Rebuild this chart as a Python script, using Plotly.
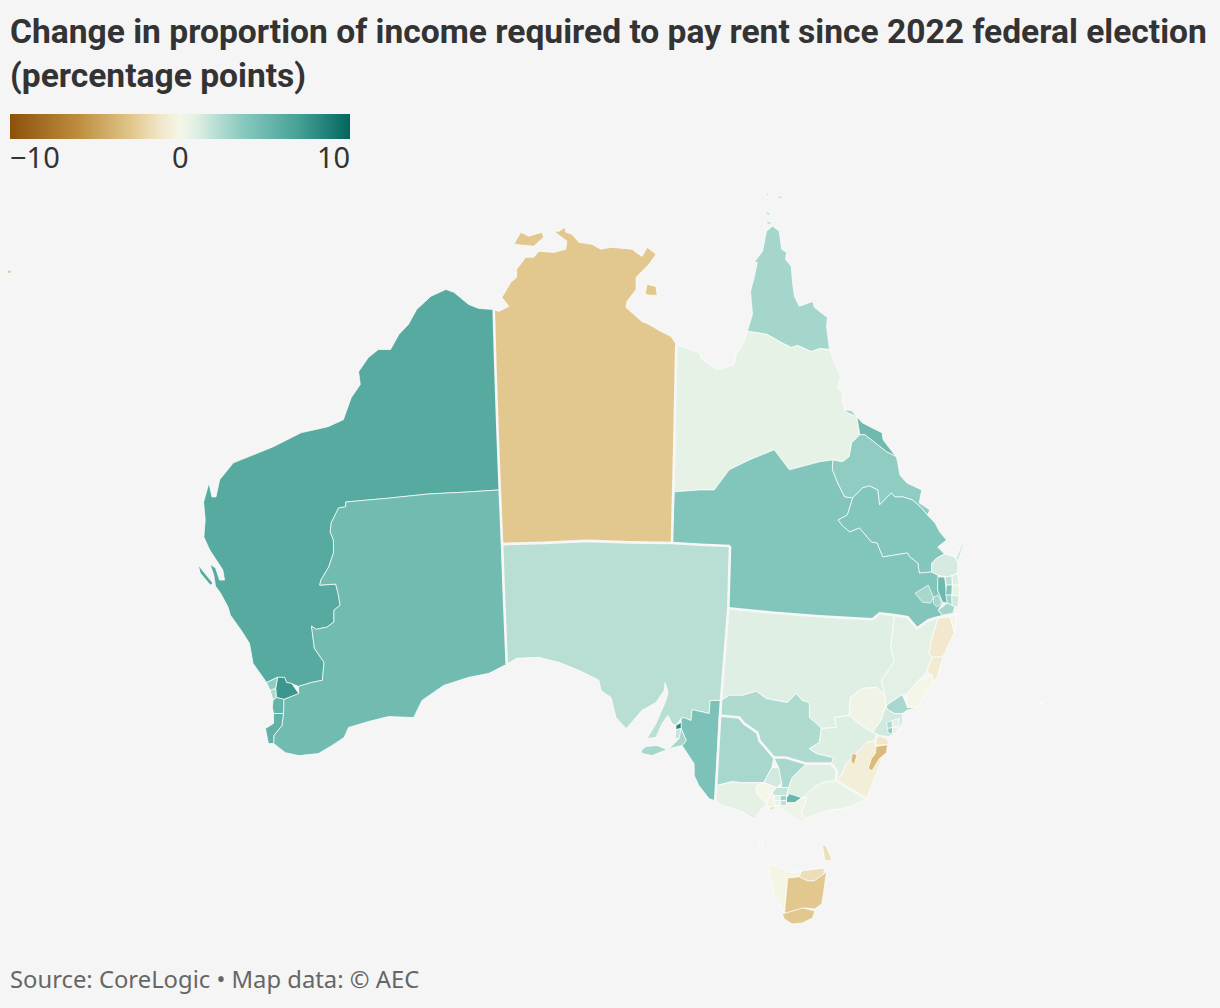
import json
from urllib.parse import quote

import plotly.graph_objects as go

# colour scale
SCALE_VALUES = [-10, -6, -3, -1.3, 0, 1, 2.2, 3.7, 7, 10]
SCALE_COLOURS = ["#8c510a", "#bd8d3e", "#e0c488", "#f0e4c5", "#f4f6e8", "#dfefe4", "#b6ddd3", "#88c9bf", "#46a096", "#01665e"]
TICK_VALUES = [-8.53, 0, 9.0]
TICK_LABELS = ["\u221210", "0", "10"]

# electorate outlines, lon/lat, one list of rings per electorate
DURACK = [
    [(129.01,-14.96),(128.28,-14.91),(127.79,-14.72),(127.09,-14.15),(126.7,-14.01),(125.95,-14.34),(125.24,-14.96),(124.8,-15.67),
     (124.31,-16.14),(123.86,-16.85),(123.26,-16.85),(122.74,-17.23),(122.21,-17.9),(122.25,-18.51),(121.75,-19.13),(121.27,-20.17),
     (120.47,-20.5),(119.07,-20.79),(117.6,-21.45),(116.54,-21.83),(115.47,-22.21),(114.65,-23.01),(114.34,-23.82),(114.13,-23.82),
     (114.08,-23.16),(113.66,-24.06),(113.6,-24.91),(113.39,-25.72),(113.59,-26.33),(114.11,-27.28),(114.11,-27.75),(113.84,-27.75),
     (113.74,-27.18),(113.48,-27.0),(113.58,-27.52),(113.57,-28.04),(113.78,-28.37),(114.05,-29.03),(114.1,-29.41),(114.54,-30.12),
     (114.87,-30.74),(114.87,-31.69),(115.43,-32.59),(116.1,-32.35),(116.49,-32.35),(116.55,-32.59),(116.83,-32.64),(117.18,-32.78),
     (117.96,-32.59),(118.58,-32.49),(118.82,-31.64),(118.4,-30.98),(118.42,-29.93),(118.65,-30.08),(119.24,-29.98),(119.67,-29.74),
     (119.75,-29.18),(120.12,-28.94),(120.09,-28.37),(120.02,-27.94),(119.16,-27.99),(119.26,-27.75),(119.75,-27.14),(120.1,-26.47),
     (120.17,-25.86),(120.05,-25.48),(120.15,-25.05),(120.62,-24.34),(120.99,-24.29),(121.02,-24.06),(125.35,-23.68),(129.02,-23.49)],
    [(112.84,-27.04),(113.46,-27.9),(113.3,-27.99),(112.88,-27.42)],
]
OCONNOR = [
    [(121.02,-24.06),(120.99,-24.29),(120.62,-24.34),(120.15,-25.05),(120.05,-25.48),(120.17,-25.86),(120.1,-26.47),(119.75,-27.14),
     (119.26,-27.75),(119.16,-27.99),(120.02,-27.94),(120.09,-28.37),(120.12,-28.94),(119.75,-29.18),(119.67,-29.74),(119.24,-29.98),
     (118.65,-30.08),(118.42,-29.93),(118.4,-30.98),(118.82,-31.64),(118.58,-32.49),(117.96,-32.59),(117.18,-32.78),(117.13,-33.11),
     (116.23,-33.39),(116.07,-34.06),(115.85,-34.63),(115.28,-35.1),(115.17,-35.48),(115.75,-35.91),(116.51,-36.05),(117.68,-35.95),
     (118.54,-35.57),(119.32,-35.19),(119.66,-34.72),(120.85,-34.44),(122.04,-34.2),(123.47,-34.25),(124.05,-33.44),(125.35,-32.73),
     (126.8,-32.35),(127.94,-32.16),(128.96,-31.73),(129.02,-23.49),(125.35,-23.68)],
]
BULLWINKEL = [[(116.1,-32.35),(116.49,-32.35),(116.55,-32.59),(116.83,-32.64),(117.13,-33.11),(116.23,-33.39),(115.83,-33.3),(115.88,-32.87)]]
PERTH_NORTH = [[(115.43,-32.59),(116.1,-32.35),(115.88,-32.87),(115.55,-32.97)]]
PERTH_SOUTH = [[(115.55,-32.97),(115.88,-32.87),(115.83,-33.3),(115.61,-33.44)]]
CANNING = [[(115.61,-33.44),(115.83,-33.3),(116.23,-33.39),(116.07,-34.06),(115.5,-34.06),(115.5,-33.77)]]
FORREST = [[(115.5,-34.06),(116.07,-34.06),(115.85,-34.63),(115.28,-35.1),(115.17,-35.48),(114.87,-35.48),(114.87,-34.77),(115.39,-34.53)]]
LINGIARI = [
    [(137.97,-16.62),(137.71,-16.24),(137.21,-16.0),(136.62,-15.67),(136.27,-15.53),(135.48,-14.86),(135.53,-14.58),(135.97,-14.01),
     (135.97,-13.44),(136.59,-12.82),(136.93,-12.35),(136.5,-12.02),(136.25,-12.45),(135.96,-12.26),(135.77,-12.11),(134.75,-12.02),
     (134.26,-12.11),(133.83,-11.88),(133.2,-11.78),(132.86,-11.4),(132.57,-11.31),(132.53,-11.07),(132.24,-11.26),(131.99,-11.26),
     (132.62,-11.73),(132.56,-12.11),(131.98,-12.26),(131.25,-12.21),(131.01,-12.49),(130.62,-12.49),(130.17,-13.06),(130.16,-13.44),
     (129.87,-13.68),(129.42,-14.39),(129.75,-14.81),(129.26,-15.05),(129.01,-14.96),(129.02,-26.05),(133.49,-25.9),(137.96,-26.0)],
    [(130.05,-11.88),(130.4,-11.31),(130.78,-11.5),(131.41,-11.31),(131.5,-11.54),(131.01,-11.97)],
    [(136.41,-14.25),(136.5,-13.77),(136.94,-13.87),(137.0,-14.29),(136.7,-14.29)],
    [(105.45,-13.1),(105.65,-13.1),(105.6,-13.25),(105.45,-13.25)],
]
GREY = [
    [(129.02,-26.05),(133.49,-25.9),(137.96,-26.0),(141.02,-26.14),(141.1,-29.08),(140.99,-33.44),(140.37,-33.44),(140.36,-34.06),
     (139.37,-33.87),(139.34,-34.39),(138.94,-34.25),(138.77,-34.29),(138.49,-34.63),(138.26,-34.53),(138.01,-34.15),(137.69,-34.53),
     (137.36,-35.19),(136.84,-35.24),(137.34,-34.53),(137.87,-33.44),(137.98,-33.06),(137.79,-32.59),(137.75,-32.97),(137.31,-33.54),
     (136.52,-33.91),(135.79,-34.63),(135.62,-34.77),(135.04,-34.25),(134.76,-33.3),(134.19,-32.97),(134.08,-32.49),(132.97,-32.02),
     (131.86,-31.64),(130.76,-31.4),(129.53,-31.45),(128.96,-31.73)],
]
BARKER = [[(140.37,-33.44),(140.99,-33.44),(141.03,-38.18),(140.66,-38.09),(140.0,-37.47),(139.69,-37.0),(139.64,-36.43),(138.89,-35.57),
           (139.12,-35.34),(138.79,-34.77),(138.77,-34.29),(138.94,-34.25),(139.34,-34.39),(139.37,-33.87),(140.36,-34.06)]]
MAYO = [
    [(138.79,-34.77),(139.12,-35.34),(138.89,-35.57),(138.14,-35.72),(138.7,-35.24),(138.56,-34.86)],
    [(136.51,-35.81),(136.79,-35.62),(137.43,-35.57),(138.02,-35.76),(137.16,-36.05),(136.57,-35.95)],
]
SPENCE = [[(138.49,-34.63),(138.78,-34.48),(138.79,-34.77),(138.5,-34.82)]]
ADELAIDE = [[(138.5,-34.82),(138.79,-34.77),(138.7,-35.24),(138.47,-35.24)]]
LEICHHARDT = [
    [(141.45,-16.0),(141.68,-15.19),(141.61,-14.63),(141.55,-14.1),(141.72,-13.39),(141.84,-12.73),(141.69,-12.73),(142.08,-12.21),
     (142.24,-11.26),(142.53,-11.02),(142.86,-11.26),(143.0,-12.11),(143.24,-12.26),(143.2,-12.59),(143.49,-12.92),(143.58,-13.68),
     (143.7,-14.34),(143.96,-14.81),(144.6,-14.58),(144.7,-14.86),(145.36,-15.34),(145.34,-15.76),(145.54,-16.85),(145.05,-16.81),
     (144.65,-16.95),(143.96,-16.66),(143.66,-16.76),(143.14,-16.52),(142.43,-16.14),(141.89,-16.05)],
    [(142.15,-10.8),(142.45,-10.82),(142.4,-10.95)],
    [(142.1,-10.32),(142.45,-10.45),(142.3,-10.5)],
    [(142.65,-9.6),(143.0,-9.62),(142.85,-9.72)],
    [(142.15,-9.47),(142.35,-9.5),(142.25,-9.57)],
]
KENNEDY = [[(137.97,-16.62),(139.11,-17.0),(139.27,-17.33),(140.02,-17.8),(140.85,-17.56),(140.94,-17.09),(141.32,-16.47),(141.45,-16.0),
            (141.89,-16.05),(142.43,-16.14),(143.14,-16.52),(143.66,-16.76),(143.96,-16.66),(144.65,-16.95),(145.05,-16.81),(145.54,-16.85),
            (145.82,-17.42),(146.17,-18.13),(146.05,-18.65),(146.3,-18.89),(146.36,-19.36),(146.49,-19.7),(146.64,-19.84),(147.12,-20.03),
            (147.34,-20.88),(146.96,-21.26),(146.89,-21.92),(146.57,-22.16),(146.06,-22.07),(145.39,-22.16),(143.88,-22.54),(143.05,-21.59),
            (141.81,-22.07),(140.8,-22.54),(140.07,-23.49),(139.3,-23.49),(138.01,-23.58)]]
HERBERT = [[(146.49,-19.7),(146.84,-19.74),(147.12,-20.03),(146.64,-19.84)]]
DAWSON = [[(147.12,-20.03),(147.41,-20.31),(147.92,-20.55),(148.46,-20.79),(148.54,-21.12),(149.19,-21.83),(149.29,-21.92),(148.78,-21.69),
           (147.59,-20.88),(147.34,-20.88)]]
CAPRICORNIA = [[(147.59,-20.88),(148.78,-21.69),(149.29,-21.92),(149.38,-22.16),(149.56,-22.78),(149.96,-23.16),(150.77,-23.49),(150.71,-24.1),
                (151.31,-24.44),(151.21,-24.67),(150.86,-24.34),(150.35,-23.96),(149.83,-23.82),(149.42,-23.82),(149.22,-23.63),(148.67,-24.2),
                (148.5,-23.49),(148.05,-23.3),(147.72,-23.39),(147.24,-23.87),(146.82,-23.82),(146.4,-23.16),(146.08,-22.54),(146.06,-22.07),
                (146.57,-22.16),(146.89,-21.92),(146.96,-21.26),(147.34,-20.88)]]
FLYNN = [[(147.24,-23.87),(147.72,-23.39),(148.05,-23.3),(148.5,-23.49),(148.67,-24.2),(149.22,-23.63),(149.42,-23.82),(149.83,-23.82),
          (150.35,-23.96),(150.86,-24.34),(151.21,-24.67),(151.66,-25.05),(151.97,-25.48),(152.38,-25.86),(151.96,-26.19),(152.37,-26.52),
          (151.99,-26.71),(151.77,-26.95),(151.82,-27.37),(151.17,-27.42),(151.03,-26.95),(150.56,-26.66),(150.41,-26.47),(149.13,-26.66),
          (148.93,-26.33),(148.75,-26.0),(148.44,-25.95),(147.74,-25.29),(147.25,-25.48),(146.85,-25.19),(146.58,-24.91),(147.04,-24.67)]]
MARANOA = [[(138.01,-23.58),(139.3,-23.49),(140.07,-23.49),(140.8,-22.54),(141.81,-22.07),(143.05,-21.59),(143.88,-22.54),(145.39,-22.16),
            (146.06,-22.07),(146.08,-22.54),(146.4,-23.16),(146.82,-23.82),(147.24,-23.87),(147.04,-24.67),(146.58,-24.91),(146.85,-25.19),
            (147.25,-25.48),(147.74,-25.29),(148.44,-25.95),(148.75,-26.0),(148.93,-26.33),(149.13,-26.66),(150.41,-26.47),(150.56,-26.66),
            (151.03,-26.95),(151.17,-27.42),(151.82,-27.37),(152.19,-27.52),(152.28,-28.23),(152.64,-28.8),(152.47,-29.18),(152.74,-29.41),
            (152.51,-29.51),(152.02,-29.65),(151.47,-30.03),(150.87,-29.51),(150.13,-29.41),(149.32,-29.32),(148.98,-29.6),(146.06,-29.46),
            (141.1,-29.08),(141.02,-26.14),(137.96,-26.0)]]
WIDE_BAY = [
    [(151.77,-26.95),(151.99,-26.71),(152.37,-26.52),(152.95,-26.66),(153.16,-26.95),(153.2,-27.42),(152.72,-27.61),(152.19,-27.52),(151.82,-27.37)],
    [(153.23,-26.0),(153.33,-25.9),(153.16,-26.95),(153.0,-26.71)],
]
BLAIR = [[(152.19,-27.61),(152.56,-27.61),(152.91,-28.84),(152.64,-28.8),(152.28,-28.23)]]
GROOM = [[(151.09,-28.37),(151.74,-27.99),(152.11,-28.56),(151.99,-28.84),(151.56,-28.8)]]
RANKIN = [[(152.11,-28.56),(152.33,-28.46),(152.59,-28.8),(152.37,-29.03),(152.15,-28.84)]]
WRIGHT = [[(152.47,-29.18),(152.91,-28.84),(153.18,-28.94),(153.34,-29.03),(153.29,-29.32),(152.74,-29.41)]]
DICKSON = [[(152.56,-27.61),(152.94,-27.56),(153.03,-27.99),(152.71,-27.99)]]
LONGMAN = [[(152.94,-27.56),(153.2,-27.42),(153.41,-27.99),(153.03,-27.99)]]
RYAN = [[(152.71,-27.99),(153.03,-27.99),(153.08,-28.46),(152.76,-28.46)]]
LILLEY = [[(153.03,-27.99),(153.41,-27.99),(153.46,-28.23),(153.46,-28.51),(153.08,-28.46)]]
OXLEY = [[(152.76,-28.46),(153.08,-28.46),(153.18,-28.94),(152.91,-28.84)]]
BOWMAN = [[(153.08,-28.46),(153.46,-28.51),(153.51,-28.99),(153.34,-29.03),(153.18,-28.94)]]
PARKES = [[(141.1,-29.08),(146.06,-29.46),(148.98,-29.6),(149.32,-29.32),(150.13,-29.41),(150.18,-30.93),(150.48,-31.55),(150.17,-32.11),
           (149.92,-32.49),(150.22,-33.2),(149.69,-32.82),(148.9,-32.87),(148.3,-33.3),(148.36,-34.15),(147.54,-34.25),(147.73,-34.72),
           (146.86,-34.77),(146.54,-34.53),(146.1,-34.25),(146.01,-33.54),(145.58,-33.44),(145.21,-33.11),(144.76,-33.54),(144.11,-33.44),
           (143.54,-33.35),(142.95,-33.01),(142.18,-33.2),(141.44,-33.2),(140.99,-33.44)]]
FARRER = [[(140.99,-33.44),(141.44,-33.2),(142.18,-33.2),(142.95,-33.01),(143.54,-33.35),(144.11,-33.44),(144.76,-33.54),(145.21,-33.11),
           (145.58,-33.44),(146.01,-33.54),(146.1,-34.25),(146.54,-34.53),(146.86,-34.77),(146.85,-35.43),(146.3,-35.72),(146.75,-35.95),
           (147.8,-36.14),(147.7,-36.43),(146.23,-36.43),(144.99,-36.14),(144.29,-36.14),(143.36,-35.34),(143.2,-34.96),(142.4,-34.53),
           (142.09,-34.25),(140.93,-34.15)]]
RIVERINA = [[(146.86,-34.77),(147.73,-34.72),(147.54,-34.25),(148.36,-34.15),(149.18,-34.63),(149.84,-34.96),(150.08,-35.0),(150.05,-35.34),
             (149.58,-35.43),(148.58,-36.43),(148.43,-36.9),(148.11,-37.23),(148.09,-36.76),(147.7,-36.43),(147.8,-36.14),(146.75,-35.95),
             (146.3,-35.72),(146.85,-35.43)]]
CALARE = [[(150.22,-33.2),(150.38,-33.68),(150.23,-34.39),(149.84,-34.96),(149.18,-34.63),(148.36,-34.15),(148.3,-33.3),(148.9,-32.87),(149.69,-32.82)]]
EDEN_MONARO = [[(149.58,-35.43),(150.05,-35.34),(150.11,-35.57),(150.82,-35.53),(150.52,-36.62),(150.12,-38.09),(148.11,-37.23),(148.43,-36.9),(148.58,-36.43)]]
GILMORE = [[(150.17,-35.62),(150.82,-35.53),(150.84,-35.91),(150.48,-36.19),(150.16,-36.76),(149.92,-36.66),(150.01,-36.19),(150.2,-35.95)]]
CANBERRA = [[(148.85,-35.95),(149.14,-36.0),(149.05,-36.52),(148.83,-36.28)]]
WHITLAM = [[(150.11,-35.57),(150.12,-35.24),(150.25,-35.1),(150.7,-35.24),(150.92,-35.48),(150.82,-35.53)]]
HUNTER = [[(150.38,-33.68),(151.2,-33.16),(151.62,-33.77),(152.19,-33.77),(151.62,-33.91),(151.39,-34.06),(150.93,-34.06),(150.48,-33.87)]]
MACARTHUR = [[(150.23,-34.39),(150.38,-33.68),(150.48,-33.87),(150.93,-34.06),(151.39,-34.06),(151.48,-34.48),(151.23,-35.0),(150.83,-35.15),(150.25,-35.1),(150.08,-35.0),(149.84,-34.96)]]
LINDSAY = [[(150.56,-34.48),(150.86,-34.39),(150.95,-34.72),(150.67,-34.77)]]
BENNELONG = [[(150.86,-34.39),(151.26,-34.29),(151.3,-34.67),(150.95,-34.72)]]
WERRIWA = [[(150.67,-34.77),(150.95,-34.72),(151.0,-35.0),(150.77,-35.0)]]
WENTWORTH = [[(150.95,-34.72),(151.3,-34.67),(151.23,-35.0),(151.0,-35.0)]]
LYNE = [
    [(151.41,-33.2),(151.89,-32.59),(152.68,-32.21),(152.9,-32.59),(152.55,-33.06),(152.19,-33.77),(151.62,-33.77)],
    [(159.1,-33.55),(159.25,-33.55),(159.2,-33.65)],
]
COWPER = [[(152.35,-32.11),(152.53,-31.4),(153.14,-31.36),(153.02,-32.26),(152.9,-32.59),(152.68,-32.21)]]
PAGE = [[(152.32,-30.74),(152.52,-29.55),(153.17,-29.51),(153.55,-30.22),(153.14,-31.36),(152.53,-31.4),(152.32,-31.21)]]
RICHMOND = [[(153.17,-29.51),(153.4,-29.41),(153.5,-29.32),(153.55,-30.22)]]
NEW_ENGLAND = [[(150.13,-29.41),(150.87,-29.51),(151.47,-30.03),(152.02,-29.65),(152.51,-29.51),(152.52,-29.55),(152.32,-30.74),(152.32,-31.21),
                (152.53,-31.4),(152.35,-32.11),(151.89,-32.59),(151.41,-33.2),(151.2,-33.16),(150.38,-33.68),(150.22,-33.2),(149.92,-32.49),
                (150.17,-32.11),(150.48,-31.55),(150.18,-30.93)]]
MALLEE = [[(140.93,-34.15),(142.09,-34.25),(142.4,-34.53),(143.2,-34.96),(143.36,-35.34),(144.29,-36.14),(144.23,-36.62),(144.02,-37.0),
           (143.84,-37.33),(142.53,-37.33),(141.94,-37.28),(141.01,-37.47)]]
BENDIGO = [[(144.23,-36.62),(144.64,-36.62),(144.91,-37.33),(144.64,-37.56),(143.84,-37.33),(144.02,-37.0)]]
NICHOLLS = [[(144.29,-36.14),(144.99,-36.14),(146.23,-36.43),(145.5,-37.09),(145.35,-37.56),(144.94,-37.56),(144.91,-37.33),(144.64,-36.62)]]
INDI = [[(146.23,-36.43),(147.7,-36.43),(148.09,-36.76),(148.11,-37.23),(147.28,-37.33),(146.84,-37.56),(146.27,-38.04),(145.27,-37.94),(145.35,-37.56),(145.5,-37.09)]]
GIPPSLAND = [[(148.11,-37.23),(150.12,-38.09),(149.05,-38.51),(147.83,-38.65),(146.65,-39.03),(146.31,-38.8),(146.51,-38.04),(146.27,-38.04),(146.84,-37.56),(147.28,-37.33)]]
WANNON = [[(141.01,-37.47),(141.94,-37.28),(142.53,-37.33),(143.84,-37.33),(143.45,-37.47),(143.47,-37.85),(144.13,-38.28),(143.48,-39.03),(142.54,-38.65),(141.49,-38.42),(141.03,-38.18)]]
BALLARAT = [[(143.45,-37.47),(143.84,-37.33),(144.64,-37.56),(144.4,-37.8),(144.13,-38.28),(143.47,-37.85)]]
CORIO = [[(144.13,-38.28),(144.4,-37.8),(144.55,-37.94),(144.58,-38.18),(144.64,-38.42),(144.24,-38.51)]]
CORANGAMITE = [[(144.24,-38.51),(144.76,-38.42),(144.49,-38.65)]]
MCEWEN = [[(144.4,-37.8),(144.64,-37.56),(145.35,-37.56),(145.27,-37.94),(144.55,-37.94)]]
LA_TROBE = [[(145.3,-38.04),(145.45,-37.85),(146.21,-38.04),(145.82,-38.28),(145.33,-38.28)]]
HOLT = [[(145.43,-38.33),(145.79,-38.33),(145.7,-38.65),(145.4,-38.56)]]
MARIBYRNONG = [[(144.55,-37.94),(144.91,-37.94),(144.94,-38.18),(144.58,-38.18)]]
JAGAJAGA = [[(144.91,-37.94),(145.27,-37.94),(145.3,-38.18),(144.94,-38.18)]]
GELLIBRAND = [[(144.58,-38.18),(144.94,-38.18),(145.0,-38.42),(144.64,-38.42)]]
HOTHAM = [[(144.94,-38.18),(145.3,-38.18),(145.37,-38.42),(145.0,-38.42)]]
MONASH = [[(145.33,-38.28),(145.82,-38.28),(146.21,-38.04),(146.51,-38.04),(146.31,-38.8),(146.65,-39.03),(146.44,-39.22),(145.7,-38.9),
           (145.16,-38.65),(144.76,-38.42),(145.0,-38.42),(145.37,-38.42)]]
BRADDON = [
    [(144.7,-41.12),(146.22,-41.59),(146.79,-41.5),(146.7,-41.78),(145.97,-41.83),(146.07,-43.49),(145.25,-42.59),(144.76,-41.64)],
    [(143.9,-39.93),(144.08,-39.98),(144.14,-40.41),(143.95,-40.31)],
]
BASS = [
    [(146.79,-41.5),(148.2,-41.36),(148.24,-41.64),(147.69,-41.97),(147.25,-41.97),(146.7,-41.78)],
    [(147.87,-40.31),(148.05,-40.27),(148.39,-40.69),(148.6,-41.02),(148.16,-41.02)],
]
LYONS = [[(145.97,-41.83),(146.7,-41.78),(147.25,-41.97),(147.69,-41.97),(148.24,-41.64),(148.37,-41.5),(148.4,-42.59),(148.4,-43.06),
          (147.99,-43.3),(147.34,-43.25),(146.2,-43.49),(146.07,-43.49)]]
FRANKLIN = [[(145.94,-43.54),(147.21,-43.25),(148.03,-43.39),(147.95,-43.73),(147.33,-43.96),(146.67,-44.01),(146.11,-43.77)]]

# state lines and the Murray, drawn heavier over the electorates
WA_LINE = [(129.01,-14.96),(129.02,-26.05),(128.96,-31.73)]
NT_SOUTH_LINE = [(129.02,-26.05),(133.49,-25.9),(137.96,-26.0),(141.02,-26.14)]
NT_EAST_LINE = [(137.97,-16.62),(137.96,-26.0)]
SA_EAST_LINE = [(141.02,-26.14),(141.1,-29.08),(140.99,-33.44),(141.03,-38.18)]
QLD_SOUTH_LINE = [(141.1,-29.08),(146.06,-29.46),(148.98,-29.6),(149.32,-29.32),(150.13,-29.41),(150.87,-29.51),(151.47,-30.03),(152.02,-29.65),(152.51,-29.51),(153.4,-29.41)]
MURRAY_LINE = [(140.93,-34.15),(142.09,-34.25),(142.4,-34.53),(143.2,-34.96),(143.36,-35.34),(144.29,-36.14),(144.99,-36.14),(146.23,-36.43),(147.7,-36.43),(148.09,-36.76),(148.11,-37.23),(150.12,-38.09)]

NAMES = ["Durack", "O'Connor", "Bullwinkel", "Perth North", "Perth South", "Canning", "Forrest", "Lingiari", "Grey", "Barker", "Mayo", "Spence", "Adelaide",
         "Leichhardt", "Kennedy", "Herbert", "Dawson", "Capricornia", "Flynn", "Maranoa", "Wide Bay", "Blair", "Groom", "Rankin", "Wright",
         "Dickson", "Longman", "Ryan", "Lilley", "Oxley", "Bowman", "Parkes", "Farrer", "Riverina", "Calare", "Eden-Monaro", "Gilmore", "Canberra", "Whitlam",
         "Hunter", "Macarthur", "Lindsay", "Bennelong", "Werriwa", "Wentworth", "Lyne", "Cowper", "Page", "Richmond", "New England",
         "Mallee", "Bendigo", "Nicholls", "Indi", "Gippsland", "Wannon", "Ballarat", "Corio", "Corangamite", "McEwen", "La Trobe", "Holt",
         "Maribyrnong", "Jagajaga", "Gellibrand", "Hotham", "Monash", "Braddon", "Bass", "Lyons", "Franklin"]
CHANGE = [6.2, 4.85, 7.5, 3.5, 2.5, 5.5, 5.6, -2.8, 2.1, 4.3, 2.7, 8.5, 1.8,
          2.75, 0.6, 2.75, 4.95, 3.45, 3.95, 4.0, 1.3, 5.0, 2.65, 2.75, 2.75,
          2.0, 1.0, 4.0, 0.6, 3.0, 1.5, 1.0, 2.43, 1.05, 0.25, -0.6, -3.5, -3.5, -1.1,
          2.65, 1.4, 2.5, 0.8, 3.5, 0.6, 0.0, -0.8, -1.0, -0.1, 0.8,
          2.65, 1.4, 2.65, 1.0, 0.55, 0.7, 0.05, 0.2, -1.5, 1.8, 5.2, 3.5,
          0.8, 3.0, 0.5, 2.0, 0.3, -0.1, -1.6, -2.8, -2.8]
OUTLINES = [DURACK, OCONNOR, BULLWINKEL, PERTH_NORTH, PERTH_SOUTH, CANNING, FORREST, LINGIARI, GREY, BARKER, MAYO, SPENCE, ADELAIDE,
            LEICHHARDT, KENNEDY, HERBERT, DAWSON, CAPRICORNIA, FLYNN, MARANOA, WIDE_BAY, BLAIR, GROOM, RANKIN, WRIGHT,
            DICKSON, LONGMAN, RYAN, LILLEY, OXLEY, BOWMAN, PARKES, FARRER, RIVERINA, CALARE, EDEN_MONARO, GILMORE, CANBERRA, WHITLAM,
            HUNTER, MACARTHUR, LINDSAY, BENNELONG, WERRIWA, WENTWORTH, LYNE, COWPER, PAGE, RICHMOND, NEW_ENGLAND,
            MALLEE, BENDIGO, NICHOLLS, INDI, GIPPSLAND, WANNON, BALLARAT, CORIO, CORANGAMITE, MCEWEN, LA_TROBE, HOLT,
            MARIBYRNONG, JAGAJAGA, GELLIBRAND, HOTHAM, MONASH, BRADDON, BASS, LYONS, FRANKLIN]
STATE_LINES = [WA_LINE, NT_SOUTH_LINE, NT_EAST_LINE, SA_EAST_LINE, QLD_SOUTH_LINE, MURRAY_LINE]


def closed_ring(ring):
    # d3-geo wants outer rings clockwise, otherwise the polygon covers the globe
    area = 0
    for (x1, y1), (x2, y2) in zip(ring, ring[1:] + ring[:1]):
        area += x1 * y2 - x2 * y1
    pts = list(ring) if area < 0 else list(reversed(ring))
    pts.append(pts[0])
    return [list(p) for p in pts]


features = []
for name, rings in zip(NAMES, OUTLINES):
    features.append(dict(
        type="Feature",
        id=name,
        properties=dict(name=name),
        geometry=dict(type="MultiPolygon", coordinates=[[closed_ring(r)] for r in rings]),
    ))
geojson = dict(type="FeatureCollection", features=features)

colorscale = [[(v + 10) / 20, c] for v, c in zip(SCALE_VALUES, SCALE_COLOURS)]

fig = go.Figure()
fig.add_trace(go.Choropleth(
    geojson=geojson,
    locations=NAMES,
    z=CHANGE,
    zmin=-10,
    zmax=10,
    colorscale=colorscale,
    marker=dict(line=dict(color="#ffffff", width=0.7)),
    colorbar=dict(
        orientation="h",
        x=10 / 1220,
        xanchor="left",
        y=1 - 114 / 1008,
        yanchor="top",
        len=340,
        lenmode="pixels",
        thickness=25,
        xpad=0,
        ypad=0,
        outlinewidth=0,
        ticks="",
        showticklabels=False,
    ),
))
for line in STATE_LINES:
    fig.add_trace(go.Scattergeo(
        lon=[p[0] for p in line],
        lat=[p[1] for p in line],
        mode="lines",
        line=dict(color="#f7f7f7", width=2.6),
        hoverinfo="skip",
        showlegend=False,
    ))

# legend labels sit tight under the bar, closer than the colorbar's own ticks allow
annotations = [dict(
    text=label,
    xref="paper",
    yref="paper",
    x=(10 + (value + 10) / 20 * 340) / 1220,
    xanchor="center",
    y=1 - 156 / 1008,
    yanchor="middle",
    showarrow=False,
    font=dict(family="Noto Sans", size=29, color="#333333"),
) for value, label in zip(TICK_VALUES, TICK_LABELS)]
annotations.append(dict(
    text="Change in proportion of income required to pay rent since 2022 federal election<br>(percentage points)",
    xref="paper",
    yref="paper",
    x=8 / 1220,
    xanchor="left",
    align="left",
    y=1 - 10 / 1008,
    yanchor="top",
    showarrow=False,
    font=dict(family="Roboto", size=33.6, color="#333333", weight="bold"),
))
annotations.append(dict(
    text="Source: CoreLogic \u2022 Map data: \u00a9 AEC",
    xref="paper",
    yref="paper",
    x=8 / 1220,
    xanchor="left",
    y=1 - 979 / 1008,
    yanchor="middle",
    showarrow=False,
    font=dict(family="Noto Sans", size=23.8, color="#666666"),
))

fig.update_layout(
    width=1220,
    height=1008,
    margin=dict(l=0, r=0, t=0, b=0),
    paper_bgcolor="#f5f5f5",
    plot_bgcolor="#f5f5f5",
    showlegend=False,
    geo=dict(
        domain=dict(x=[0, 1], y=[0, 1]),
        projection=dict(type="sinusoidal", rotation=dict(lon=134.7, lat=0, roll=0), scale=1.016),
        lonaxis=dict(range=[105.4, 164.0], showgrid=False),
        lataxis=dict(range=[-48.04, -0.27], showgrid=False),
        bgcolor="#f5f5f5",
        showframe=False,
        showland=False,
        showocean=False,
        showlakes=False,
        showrivers=False,
        showcountries=False,
        showcoastlines=False,
        showsubunits=False,
    ),
    annotations=annotations,
)

# no base map is drawn, so hand plotly an empty topology instead of the cdn one
empty = {"type": "GeometryCollection", "geometries": []}
topology = {
    "type": "Topology",
    "objects": {k: empty for k in ["coastlines", "land", "ocean", "lakes", "rivers", "countries", "subunits"]},
    "arcs": [],
}
topojson_url = "data:application/json," + quote(json.dumps(topology)) + "#"

fig.write_html(
    "out.html",
    config={"topojsonURL": topojson_url, "displayModeBar": False},
    post_script="document.body.style.margin='0';",
)
